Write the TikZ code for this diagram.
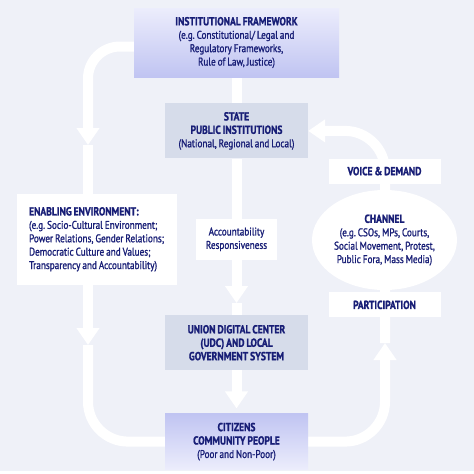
\documentclass[tikz,border=0pt]{standalone}
\usepackage{fontspec}
\setmainfont{PT Sans}[FakeStretch=0.82,WordSpace=0.8,FakeBold=1.2]
\frenchspacing
\usetikzlibrary{positioning,calc,shapes,arrows.meta,backgrounds}
\definecolor{mybg}{RGB}{239,241,248}
\definecolor{mynavy}{RGB}{24,30,118}
\definecolor{mygrey}{RGB}{214,220,234}
\definecolor{mylilac}{RGB}{192,196,242}
\definecolor{mylight}{RGB}{236,237,252}
\newcommand{\hd}[1]{{\fontsize{11.7}{13.4}\selectfont\bfseries #1}}
\tikzstyle{box}=[text=mynavy,align=center,inner sep=2pt,font=\fontsize{11.2}{13.4}\selectfont]
\tikzstyle{frame}=[box,minimum width=205pt,minimum height=69pt,top color=mylight,bottom color=mylilac]
\tikzstyle{organ}=[box,fill=mygrey,minimum width=143pt,minimum height=55pt]
\tikzstyle{people}=[box,minimum width=143pt,minimum height=56pt,top color=mylilac,bottom color=mylight]
\tikzstyle{note}=[box,fill=white]
\tikzstyle{tag}=[box,fill=white,minimum width=112pt,minimum height=25pt]
\tikzstyle{flow}=[draw=white,line width=10pt]
\tikzstyle{arr}=[-{Triangle[width=22pt,length=17pt]}]

\begin{document}
\begin{tikzpicture}[x=1pt,y=-1pt]
      \useasboundingbox (0,0) rectangle (474,474);
      \node (inst) [frame] at (236.5,42.5) {\hd{INSTITUTIONAL FRAMEWORK}\\(e.g. Constitutional/ Legal and\\Regulatory Frameworks,\\Rule of Law, Justice)};
      \node (state) [organ,below=26pt of inst] {\hd{STATE}\\\hd{PUBLIC INSTITUTIONS}\\(National, Regional and Local)};
      \node (acc) [note,below=60pt of state,minimum width=81pt,minimum height=41pt] {Accountability\\Responsiveness};
      \node (udc) [organ,below=55pt of acc] {\hd{UNION DIGITAL CENTER}\\\hd{(UDC) AND LOCAL}\\\hd{GOVERNMENT SYSTEM}};
      \node (cit) [people,below=43pt of udc] {\hd{CITIZENS}\\\hd{COMMUNITY PEOPLE}\\(Poor and Non-Poor)};
      \node (env) [note,left=19pt of acc,align=left,minimum width=160pt,minimum height=91pt] {\hd{ENABLING ENVIRONMENT:}\\(e.g. Socio-Cultural Environment;\\Power Relations, Gender Relations;\\Democratic Culture and Values;\\Transparency and Accountability)};
      \node (chan) [note,ellipse,inner sep=0pt,minimum width=145pt,minimum height=100pt] at (384.5,240) {\hd{CHANNEL}\\(e.g. CSOs, MPs, Courts,\\Social Movement, Protest,\\Public Fora, Mass Media)};
      \node (voice) [tag,above=6pt of chan] {\hd{VOICE \& DEMAND}};
      \node (part) [tag,below=2pt of chan] {\hd{PARTICIPATION}};

      \coordinate (l1) at (88,145);
      \coordinate (l2) at (88,345);
      \coordinate (r1) at (385,343);
      \coordinate (m1) at (236.5,303);

      \begin{pgfonlayer}{background}
        \fill[mybg] (0,0) rectangle (474,474);
        \fill[white] (0,471) rectangle (474,474);
        % left loop
        \draw[flow,arr,rounded corners=32pt] ([yshift=-4pt]inst.west) -| (l1);
        \draw[flow,arr] (l1) -- (l2);
        \draw[flow,rounded corners=40pt] (l2) |- (cit.west);
        % middle column
        \draw[flow] (inst.south) -- (state.north);
        \draw[flow] (state.south) -- (acc.north);
        \draw[flow,arr] (acc.south) -- (m1);
        \draw[flow] (m1) -- (udc.north);
        \draw[flow,arr,shorten >=5pt] (udc.south) -- (cit.north);
        % right loop
        \draw[flow,arr,rounded corners=40pt] (cit.east) -| (r1);
        \draw[flow,arr,rounded corners=40pt] (r1) |- (state.east);
      \end{pgfonlayer}
    \end{tikzpicture}
\end{document}
